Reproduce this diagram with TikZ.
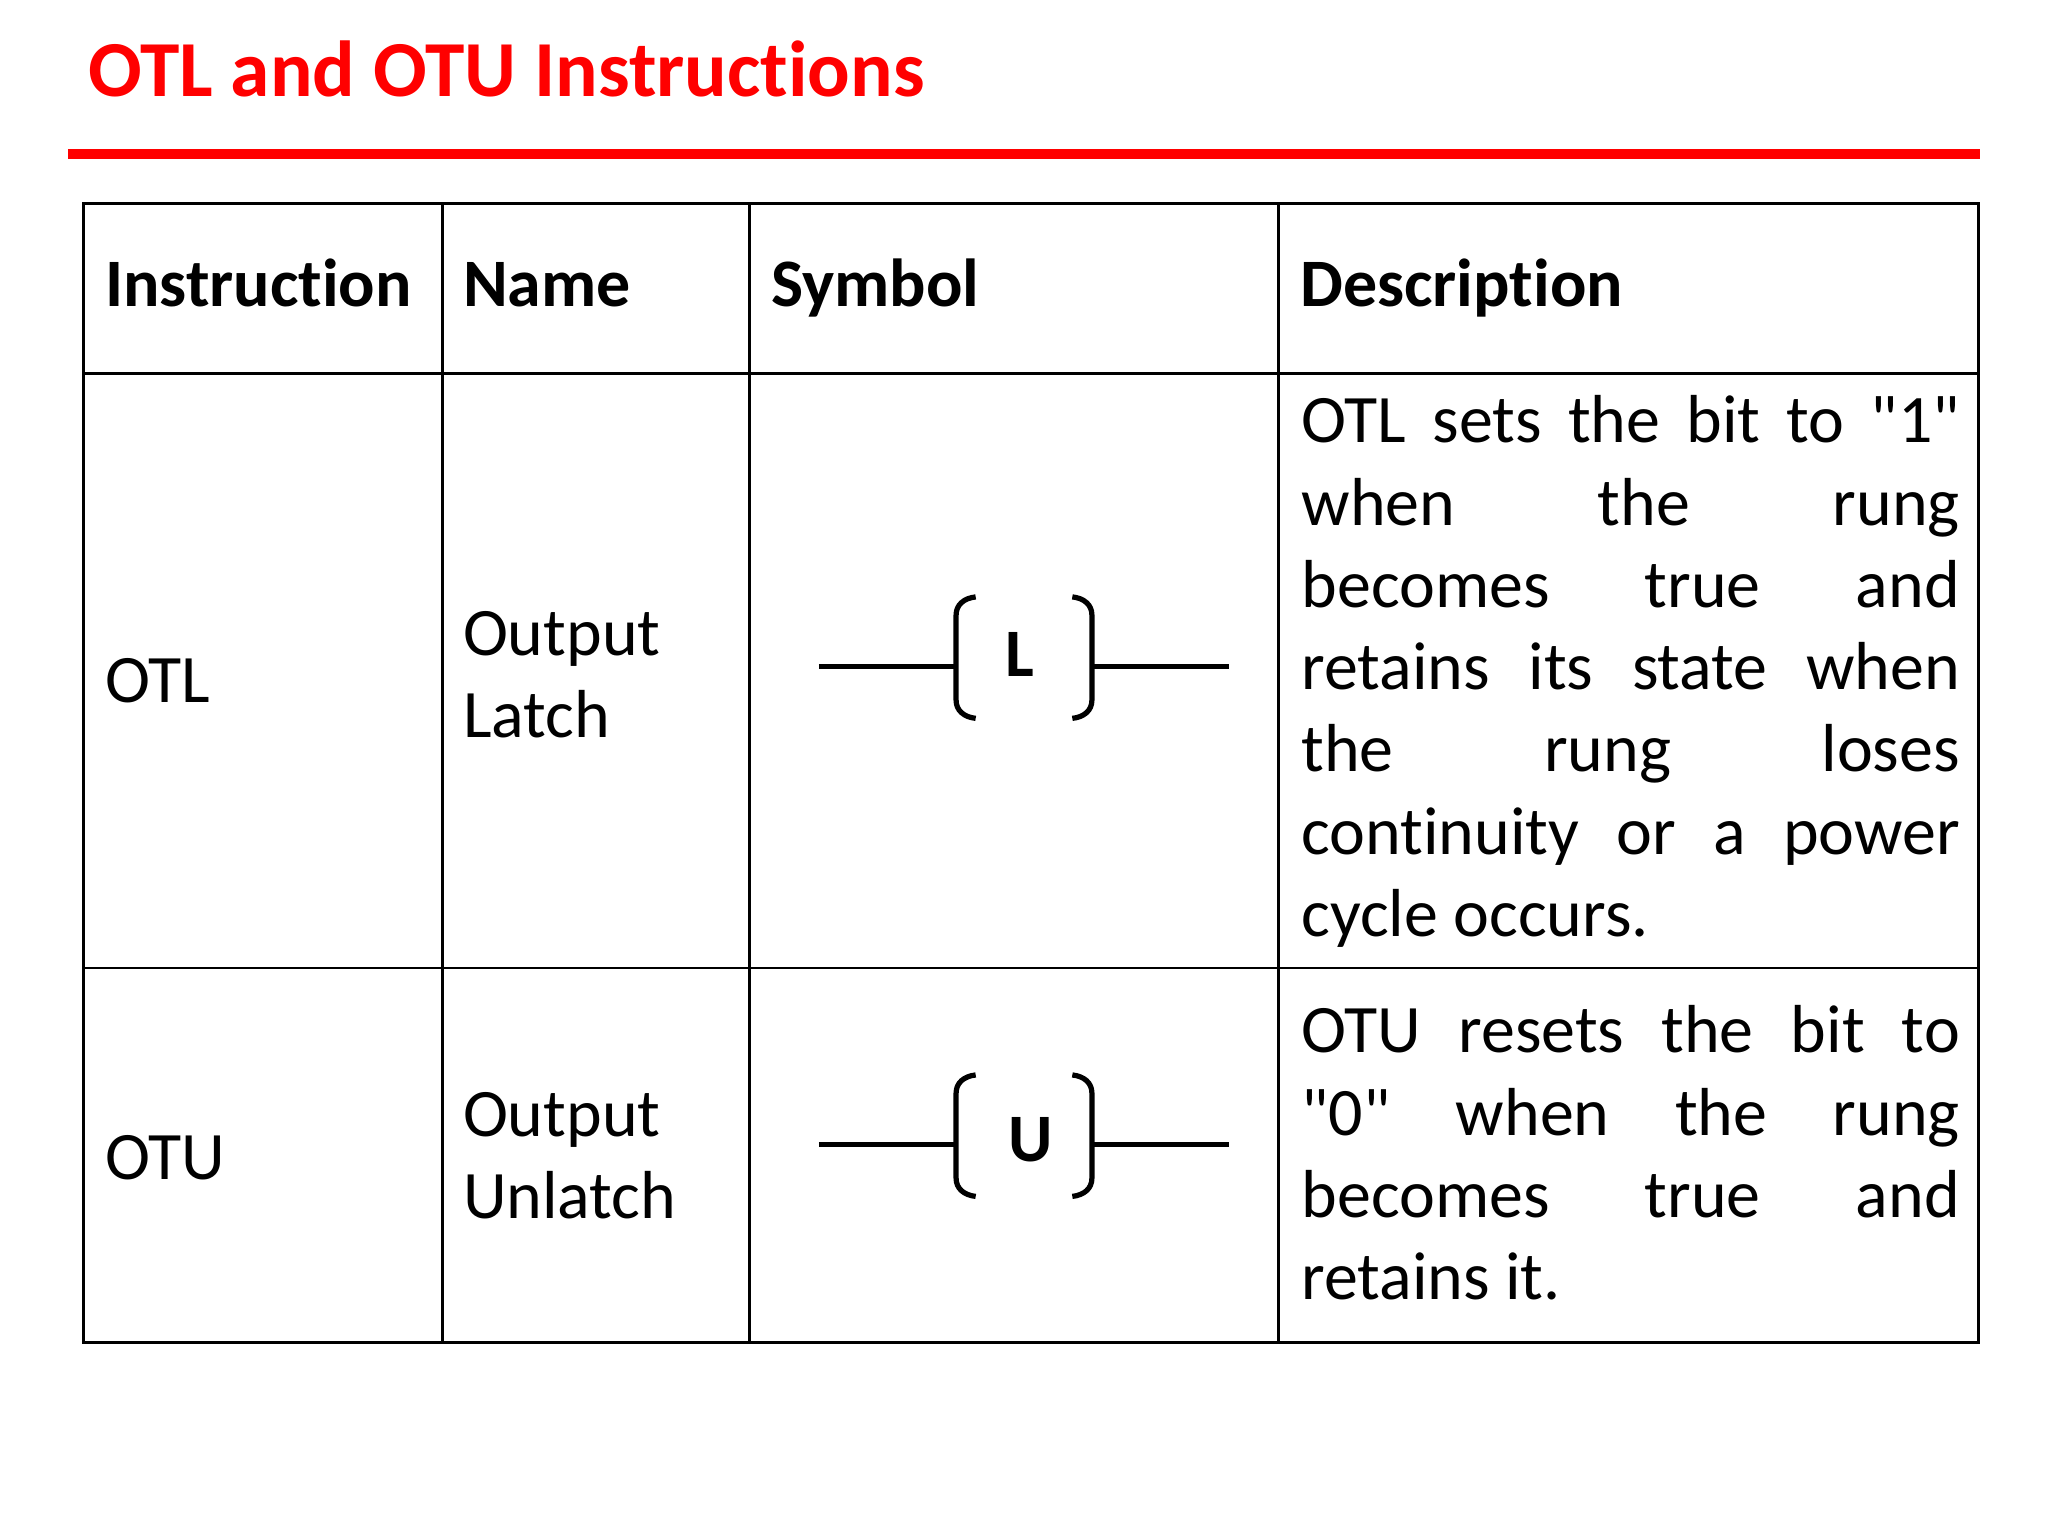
\documentclass[tikz,border=0pt]{standalone}
\usepackage{fontspec}
\setmainfont{Carlito}[Ligatures={NoCommon,TeXOff}]

\definecolor{titlered}{RGB}{255,0,0}

\tikzset{every picture/.style={line width=0.75pt}}
\tikzset{
  title text/.style={anchor=base west, inner sep=0pt, text=titlered, font=\fontsize{45.6}{54}\selectfont\bfseries},
  red rule/.style={draw=titlered, line width=6pt},
  grid line/.style={line width=1.5pt},
  coil line/.style={line width=3pt},
  cell text/.style={anchor=base west, inner sep=0pt, font=\fontsize{39}{47.25}\selectfont},
  head text/.style={cell text, font=\fontsize{39}{47.25}\selectfont\bfseries},
  name text/.style={cell text, text width=165pt, align=left},
  desc text/.style={cell text, text width=378pt, align=justify},
  coil letter/.style={anchor=base, inner sep=0pt, font=\fontsize{39}{47.25}\selectfont\bfseries},
}

\begin{document}
\begin{tikzpicture}[x=0.75pt,y=0.75pt,yscale=-1,xscale=1]
\useasboundingbox (0,0) rectangle (1568,1176);

% Text Node
\node [title text] (title) at (67,74) {OTL and OTU Instructions};
%Straight Lines [red rule]
\draw [red rule] (52,118) -- (1516,118);

%Shape: Rectangle [table frame]
\draw [grid line] (64,156) rectangle (1515,1028);
%Straight Lines [column rules]
\draw [grid line] (339,156) -- (339,1028);
\draw [grid line] (574,156) -- (574,1028);
\draw [grid line] (979,156) -- (979,1028);
%Straight Lines [row rules]
\draw [grid line] (64,286) -- (1515,286);
\draw [grid line] (64,741) -- (1515,741);

% Text Node
\node [head text] (hInstr) at (80,235) {Instruction};
% Text Node
\node [head text] (hName) at (354,235) {Name};
% Text Node
\node [head text] (hSymbol) at (590,235) {Symbol};
% Text Node
\node [head text] (hDesc) at (995,235) {Description};

% Text Node
\node [cell text] (otl) at (80,538) {OTL};
% Text Node
\node [name text] (otlName) at (354,502) {Output\\Latch};
% Text Node
\node [desc text] (otlDesc) at (996,339) {OTL sets the bit to "1"\linebreak
  when the rung\linebreak
  becomes true and\linebreak
  retains its state when\linebreak
  the rung loses\linebreak
  continuity or a power\linebreak
  cycle occurs.};

% Text Node
\node [cell text] (otu) at (80,903) {OTU};
% Text Node
\node [name text] (otuName) at (354,870) {Output\\Unlatch};
% Text Node
\node [desc text] (otuDesc) at (996,806) {OTU resets the bit to\linebreak
  "0" when the rung\linebreak
  becomes true and\linebreak
  retains it.};

%Coil [latch]
\node [coil letter] (coilL) at (781,518) {L};
\coordinate (inL) at (627,510);
\coordinate (leftL) at (732,510);
\coordinate (rightL) at (836,510);
\coordinate (outL) at (941,510);
\draw [coil line] (inL) -- (leftL);
\draw [coil line] (rightL) -- (outL);
\draw [coil line] (747,457) .. controls (738,458) and (732,463) .. (732,471) -- (732,536) .. controls (732,544) and (738,549) .. (747,550);
\draw [coil line] (821,457) .. controls (830,458) and (836,463) .. (836,471) -- (836,536) .. controls (836,544) and (830,549) .. (821,550);

%Coil [unlatch]
\node [coil letter] (coilU) at (789,889) {U};
\coordinate (inU) at (627,876);
\coordinate (leftU) at (732,876);
\coordinate (rightU) at (836,876);
\coordinate (outU) at (941,876);
\draw [coil line] (inU) -- (leftU);
\draw [coil line] (rightU) -- (outU);
\draw [coil line] (747,823) .. controls (738,824) and (732,829) .. (732,837) -- (732,902) .. controls (732,910) and (738,915) .. (747,916);
\draw [coil line] (821,823) .. controls (830,824) and (836,829) .. (836,837) -- (836,902) .. controls (836,910) and (830,915) .. (821,916);

\end{tikzpicture}
\end{document}
